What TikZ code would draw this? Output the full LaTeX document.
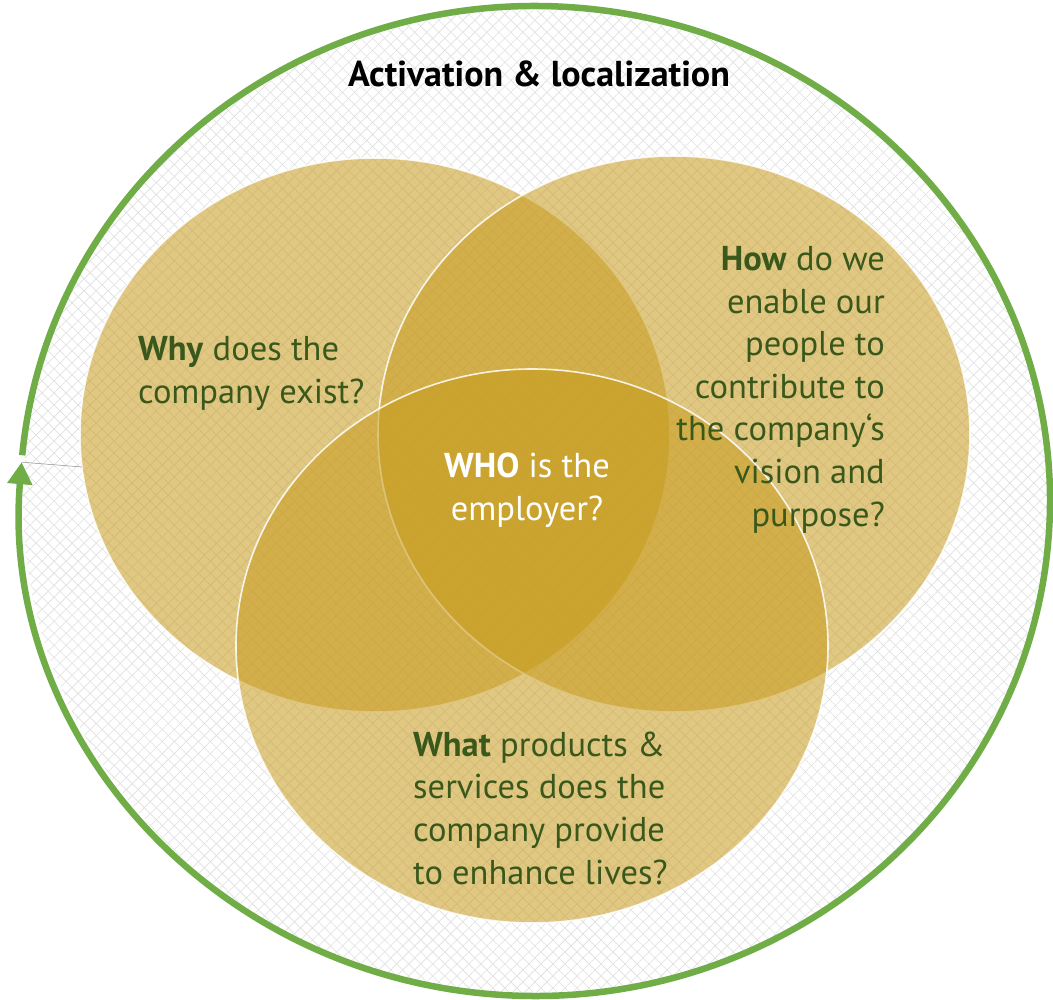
\documentclass[tikz,border=0pt]{standalone}
\usepackage{fontspec}
\setmainfont{PT Sans}
\usetikzlibrary{patterns.meta,arrows.meta,calc}
\definecolor{ringgreen}{RGB}{112,173,71}
\definecolor{gold}{RGB}{199,155,28}
\definecolor{txtgreen}{RGB}{58,88,28}
\tikzset{
  txt/.style={text=txtgreen, font=\fontsize{34.5}{42.6}\selectfont, inner sep=0pt},
  venn/.style={fill=gold, fill opacity=0.55, draw=white, draw opacity=0.85, line width=1.6pt},
  hatch/.style={pattern={Lines[angle=#1,distance=8.5pt,line width=0.6pt]}, pattern color=black!12}
}
\begin{document}
\begin{tikzpicture}[x=1pt,y=-1pt]
\useasboundingbox (0,0) rectangle (1053,1000);
\fill[white] (0,0) rectangle (1053,1000);
% hatched background inside ring
\path[hatch=45] (535,501) ellipse [x radius=512, y radius=492];
\path[hatch=-45] (535,501) ellipse [x radius=512, y radius=492];
% venn circles
\path[venn] (375,435) ellipse [x radius=295, y radius=277];
\path[venn] (674,434) ellipse [x radius=296, y radius=278];
\path[venn] (532,646) ellipse [x radius=296, y radius=277];
% ring with arrow
\coordinate (tip) at ($(535,501)+(544.5:515 and 495)$);
\draw[ringgreen, line width=6.5pt, -{Triangle[width=24pt,length=22pt]}]
  (535,501) ++(185.3:515 and 495) arc[start angle=185.3, end angle=544.5, x radius=515, y radius=495];
\coordinate (leftedge) at (82,467);
\draw[black!45, line width=0.5pt] (tip) -- (leftedge);
% texts (base anchor = baseline of last line)
\node[font=\bfseries\fontsize{36}{40}\selectfont, anchor=base, inner sep=0pt] (title) at (539,87) {Activation \& localization};
\node[txt, anchor=base west, align=left] (why) at (138,403) {\textbf{Why} does the\\company exist?};
\node[txt, anchor=base east, align=right] (how) at (885,526) {\textbf{How} do we\\enable our\\people to\\contribute to\\the company‘s\\vision and\\purpose?};
\node[txt, anchor=base west, align=left] (what) at (413,884) {\textbf{What} products \&\\services does the\\company provide\\to enhance lives?};
\node[txt, text=white, anchor=base, align=center] (who) at (527,520) {\textbf{WHO} is the\\employer?};
\end{tikzpicture}
\end{document}
